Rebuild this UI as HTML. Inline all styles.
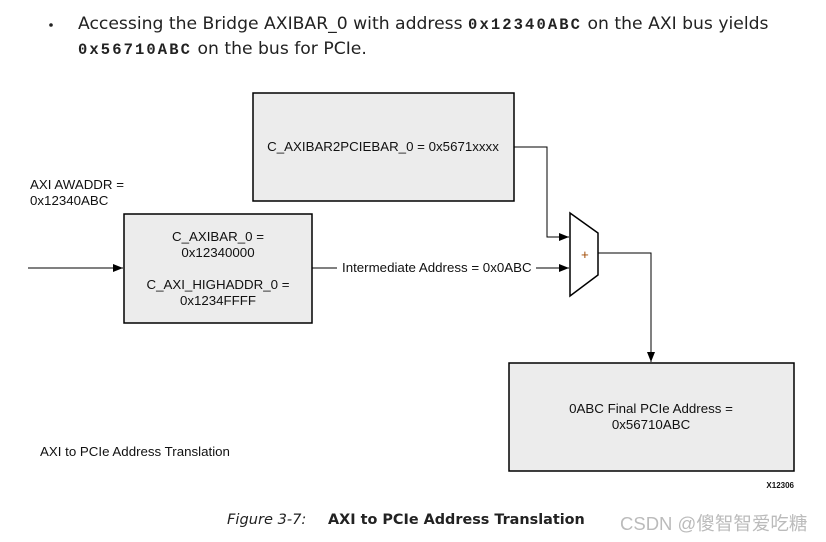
<!DOCTYPE html>
<html><head><meta charset="utf-8"><style>
body{margin:0;background:#fff;width:826px;height:542px;overflow:hidden}
svg{display:block}
.s{font-family:"Liberation Sans",Arial,sans-serif;font-size:13.3px;fill:#111}
.h{font-family:"DejaVu Sans","Liberation Sans",sans-serif;font-size:17.2px;fill:#222}
.m{font-family:"Liberation Mono",monospace;font-size:15.5px;font-weight:bold;fill:#222;letter-spacing:2.1px}
</style></head><body>
<svg width="826" height="542" viewBox="0 0 826 542" xmlns="http://www.w3.org/2000/svg">
<defs><marker id="a" markerWidth="10" markerHeight="8" refX="10" refY="4" orient="auto" markerUnits="userSpaceOnUse"><path d="M0,0 L10,4 L0,8z" fill="#000"/></marker></defs>
<circle cx="51" cy="25" r="1.8" fill="#222"/>
<text x="78" y="29" class="h">Accessing the Bridge AXIBAR_0 with address <tspan class="m">0x12340ABC</tspan> on the AXI bus yields</text>
<text x="78" y="54" class="h"><tspan class="m">0x56710ABC</tspan> on the bus for PCIe.</text>
<g stroke="#000" stroke-width="1.5" fill="#ececec">
<rect x="253" y="93" width="261" height="108"/>
<rect x="124" y="214" width="188" height="109"/>
<rect x="509" y="363" width="285" height="108"/>
<path d="M570,213 L598,233 L598,275 L570,296Z" fill="#fff"/>
</g>
<g stroke="#000" stroke-width="1" fill="none">
<path d="M514,147 L547,147 L547,237 L569,237" marker-end="url(#a)"/>
<path d="M28,268 L123,268" marker-end="url(#a)"/>
<path d="M312,268 L337,268"/>
<path d="M536,268 L569,268" marker-end="url(#a)"/>
<path d="M598,253 L651,253 L651,362" marker-end="url(#a)"/>
</g>
<text x="581" y="259" class="s" style="fill:#a04800">+</text>
<text x="383" y="151" class="s" text-anchor="middle">C_AXIBAR2PCIEBAR_0 = 0x5671xxxx</text>
<text x="30" y="189" class="s">AXI AWADDR =</text>
<text x="30" y="205" class="s">0x12340ABC</text>
<text x="218" y="241" class="s" text-anchor="middle">C_AXIBAR_0 =</text>
<text x="218" y="257" class="s" text-anchor="middle">0x12340000</text>
<text x="218" y="289" class="s" text-anchor="middle">C_AXI_HIGHADDR_0 =</text>
<text x="218" y="305" class="s" text-anchor="middle">0x1234FFFF</text>
<text x="342" y="272" class="s">Intermediate Address = 0x0ABC</text>
<text x="651" y="413" class="s" text-anchor="middle">0ABC Final PCIe Address =</text>
<text x="651" y="429" class="s" text-anchor="middle">0x56710ABC</text>
<text x="40" y="456" class="s">AXI to PCIe Address Translation</text>
<text x="794" y="488" class="s" style="font-size:8px;font-weight:bold" text-anchor="end">X12306</text>
<text x="227" y="524" style="font-family:'DejaVu Sans',sans-serif;font-size:14.6px;font-style:italic;fill:#222">Figure 3-7:</text>
<text x="328" y="524" style="font-family:'DejaVu Sans',sans-serif;font-size:14.4px;font-weight:bold;fill:#222">AXI to PCIe Address Translation</text>
<text x="620" y="530" style="font-family:'Liberation Sans','Noto Sans CJK SC',sans-serif;font-size:18.5px;fill:#bbb">CSDN @傻智智爱吃糖</text>
</svg>
</body></html>
